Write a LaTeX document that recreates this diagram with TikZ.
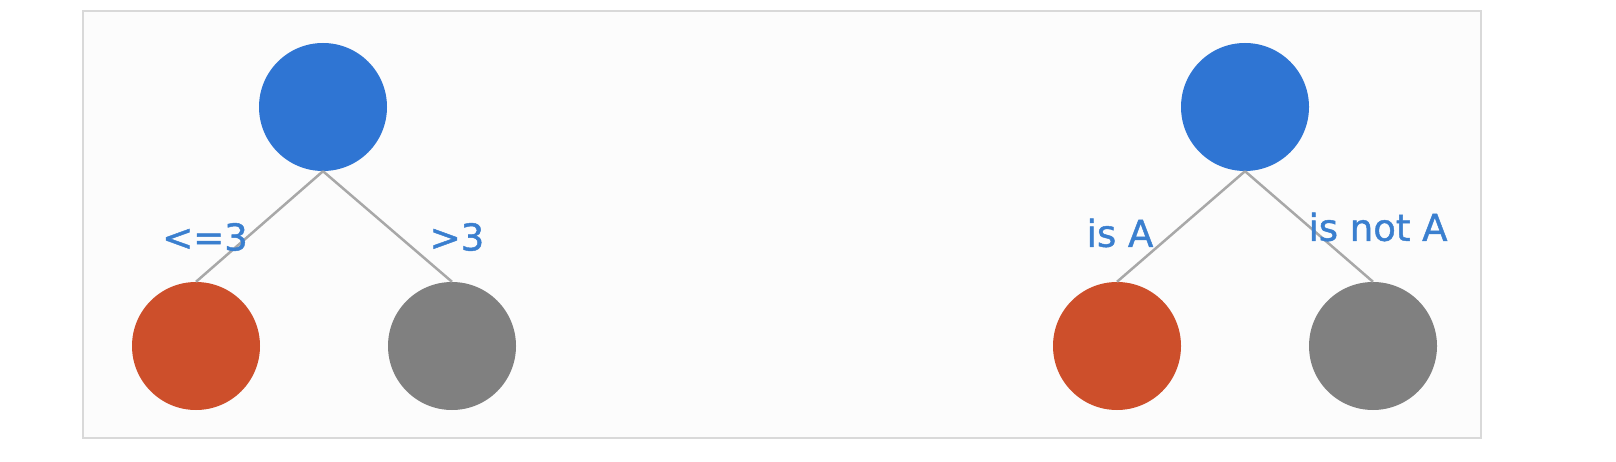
\documentclass[tikz,border=0pt]{standalone}
\usepackage{fontspec}
\setmainfont{DejaVu Sans}
\newfontfamily\lblfont[FakeBold=1.2]{DejaVu Sans}
\definecolor{nodeblue}{HTML}{2F75D3}
\definecolor{nodered}{HTML}{CD4F2B}
\definecolor{nodegrey}{HTML}{808080}
\definecolor{labelblue}{HTML}{3A7FCF}
\definecolor{edgegrey}{HTML}{A8A8A8}
\definecolor{framegrey}{HTML}{D9D9D9}
\definecolor{panelbg}{HTML}{FCFCFC}
\tikzset{
  ball/.style={circle, minimum size=128pt, inner sep=0pt},
  rootball/.style={ball, fill=nodeblue},
  redball/.style={ball, fill=nodered},
  greyball/.style={ball, fill=nodegrey},
  edge/.style={draw=edgegrey, line width=2.5pt},
  lbl/.style={text=labelblue, font=\lblfont\fontsize{37}{40}\selectfont, inner sep=0pt}
}
\begin{document}
\begin{tikzpicture}[x=1pt,y=-1pt]
\useasboundingbox (0,0) rectangle (1616,462);
\fill[white] (0,0) rectangle (1616,462);
\draw[framegrey, fill=panelbg, line width=2pt] (83,11) rectangle (1481,438);
% left tree
\node[rootball] (r1) at (323,107) {};
\node[redball] (a1) at (196,346) {};
\node[greyball] (b1) at (452,346) {};
\draw[edge] (r1.south) -- (a1.north);
\draw[edge] (r1.south) -- (b1.north);
\node[lbl] (l1) at (205,237) {<=3};
\node[lbl] (l2) at (457,237) {>3};
% right tree
\node[rootball] (r2) at (1245,107) {};
\node[redball] (a2) at (1117,346) {};
\node[greyball] (b2) at (1373,346) {};
\draw[edge] (r2.south) -- (a2.north);
\draw[edge] (r2.south) -- (b2.north);
\node[lbl] (l3) at (1120,233) {is A};
\node[lbl] (l4) at (1378,227) {is not A};
\end{tikzpicture}
\end{document}
